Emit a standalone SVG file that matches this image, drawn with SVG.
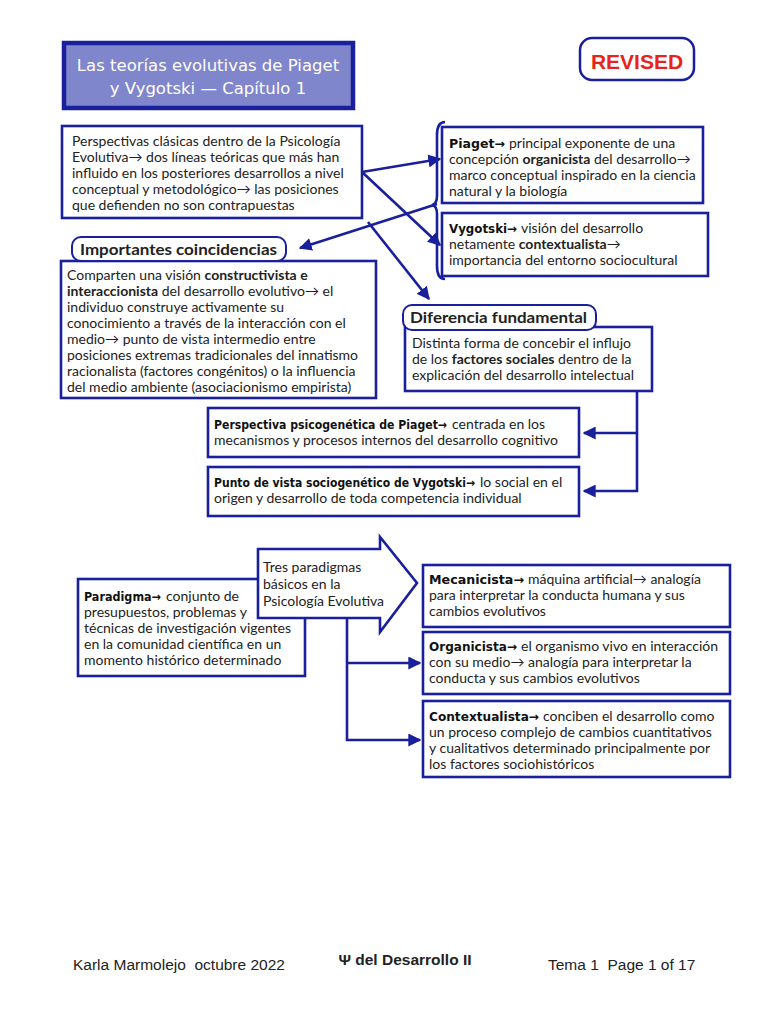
<svg xmlns="http://www.w3.org/2000/svg" width="768" height="1024" viewBox="0 0 768 1024">
<defs>
<style>
.box{fill:#fff;stroke:#1a1f9c;stroke-width:2.6}
.lbl{fill:#fff;stroke:#1a1f9c;stroke-width:2}
.t{font-family:Lato,"Open Sans","Liberation Sans",sans-serif;font-size:14px;fill:#222}
.b{font-weight:bold}
.k{font-family:"DejaVu Sans Condensed","Liberation Sans",sans-serif;font-size:12.5px;font-weight:bold;fill:#111}
.h{font-family:Lato,"Open Sans","Liberation Sans",sans-serif;font-size:16px;font-weight:bold;fill:#222}
.c{fill:none;stroke:#1a1f9c;stroke-width:2.6}
.f{font-family:"Liberation Sans",Arial,sans-serif;font-size:15.5px;fill:#222}
</style>
<marker id="ah" viewBox="0 0 10 10" refX="9" refY="5" markerWidth="5" markerHeight="5" orient="auto" markerUnits="strokeWidth">
<path d="M0,0 L10,5 L0,10 Z" fill="#1a1f9c"/>
</marker>
</defs>
<rect width="768" height="1024" fill="#fff"/>

<g id="title">
<rect x="64" y="43" width="289" height="65" fill="#7f86cc" stroke="#1a1f9c" stroke-width="4.5"/>
<text x="208" y="71" text-anchor="middle" font-family="'DejaVu Sans',sans-serif" font-size="16.5" fill="#fff">Las teorías evolutivas de Piaget</text>
<text x="208" y="94" text-anchor="middle" font-family="'DejaVu Sans',sans-serif" font-size="16.5" fill="#fff">y Vygotski — Capítulo 1</text>
</g>

<g id="revised">
<rect x="580" y="38" width="114" height="42" rx="12" fill="#fff" stroke="#1a1f9c" stroke-width="2.5"/>
<text x="637" y="69" text-anchor="middle" font-family="'Liberation Sans',Arial,sans-serif" font-weight="bold" font-size="21" fill="#e8231b">REVISED</text>
</g>

<g id="connectors">
<line class="c" x1="362" y1="172" x2="440" y2="159" marker-end="url(#ah)"/>
<line class="c" x1="362" y1="172" x2="440" y2="245" marker-end="url(#ah)"/>
<line class="c" x1="437" y1="204" x2="300" y2="248" marker-end="url(#ah)"/>
<line class="c" x1="368" y1="222" x2="429" y2="299" marker-end="url(#ah)"/>
<path class="c" d="M445,122 Q437,122 437,135 L437,196 Q437,204 432,205 Q437,206 437,214 L437,266 Q437,279 445,279" stroke-width="2.2"/>
<path class="c" d="M637,391 L637,491 L584,491" marker-end="url(#ah)"/>
<path class="c" d="M637,433 L584,433" marker-end="url(#ah)"/>
<path class="c" d="M347,618 L347,740 L420,740" marker-end="url(#ah)"/>
<path class="c" d="M347,663 L420,663" marker-end="url(#ah)"/>
</g>

<g id="n-perspectivas">
<rect class="box" x="62" y="126" width="300" height="92"/>
<text class="t" x="72" y="146">Perspectivas clásicas dentro de la Psicología</text>
<text class="t" x="72" y="162">Evolutiva→ dos líneas teóricas que más han</text>
<text class="t" x="72" y="178">influido en los posteriores desarrollos a nivel</text>
<text class="t" x="72" y="194">conceptual y metodológico→ las posiciones</text>
<text class="t" x="72" y="210">que defienden no son contrapuestas</text>
</g>

<g id="n-piaget">
<rect class="box" x="442" y="127" width="261" height="76"/>
<text class="k" x="449" y="148" textLength="56" lengthAdjust="spacingAndGlyphs">Piaget→</text>
<text class="t" x="509" y="148">principal exponente de una</text>
<text class="t" x="449" y="164">concepción <tspan class="b">organicista</tspan> del desarrollo→</text>
<text class="t" x="449" y="180">marco conceptual inspirado en la ciencia</text>
<text class="t" x="449" y="196">natural y la biología</text>
</g>

<g id="n-vygotski">
<rect class="box" x="442" y="213" width="266" height="63"/>
<text class="k" x="449" y="233" textLength="68" lengthAdjust="spacingAndGlyphs">Vygotski→</text>
<text class="t" x="521" y="233">visión del desarrollo</text>
<text class="t" x="449" y="249">netamente <tspan class="b">contextualista</tspan>→</text>
<text class="t" x="449" y="265">importancia del entorno sociocultural</text>
</g>

<g id="n-coincidencias">
<rect class="box" x="61" y="261" width="315" height="137"/>
<rect class="lbl" x="72" y="237" width="214" height="24" rx="9"/>
<text class="h" x="80" y="255" textLength="197" lengthAdjust="spacingAndGlyphs">Importantes coincidencias</text>
<text class="t" x="67" y="280">Comparten una visión <tspan class="b">constructivista e</tspan></text>
<text class="t" x="67" y="296"><tspan class="b">interaccionista</tspan> del desarrollo evolutivo→ el</text>
<text class="t" x="67" y="312">individuo construye activamente su</text>
<text class="t" x="67" y="328">conocimiento a través de la interacción con el</text>
<text class="t" x="67" y="344">medio→ punto de vista intermedio entre</text>
<text class="t" x="67" y="360">posiciones extremas tradicionales del innatismo</text>
<text class="t" x="67" y="376">racionalista (factores congénitos) o la influencia</text>
<text class="t" x="67" y="392">del medio ambiente (asociacionismo empirista)</text>
</g>

<g id="n-diferencia">
<rect class="box" x="405" y="327" width="247" height="64"/>
<rect class="lbl" x="403" y="305" width="193" height="25" rx="9"/>
<text class="h" x="410" y="323" textLength="177" lengthAdjust="spacingAndGlyphs">Diferencia fundamental</text>
<text class="t" x="412" y="348">Distinta forma de concebir el influjo</text>
<text class="t" x="412" y="364">de los <tspan class="b">factores sociales</tspan> dentro de la</text>
<text class="t" x="412" y="380">explicación del desarrollo intelectual</text>
</g>

<g id="n-psicogenetica">
<rect class="box" x="208" y="408" width="371" height="49"/>
<text class="k" x="214" y="429" textLength="233" lengthAdjust="spacingAndGlyphs">Perspectiva psicogenética de Piaget→</text>
<text class="t" x="452" y="429">centrada en los</text>
<text class="t" x="214" y="445">mecanismos y procesos internos del desarrollo cognitivo</text>
</g>

<g id="n-sociogenetico">
<rect class="box" x="208" y="467" width="371" height="49"/>
<text class="k" x="214" y="487" textLength="261" lengthAdjust="spacingAndGlyphs">Punto de vista sociogenético de Vygotski→</text>
<text class="t" x="480" y="487">lo social en el</text>
<text class="t" x="214" y="503">origen y desarrollo de toda competencia individual</text>
</g>

<g id="n-paradigma">
<rect class="box" x="78" y="579" width="227" height="97"/>
<text class="k" x="84" y="601" textLength="77" lengthAdjust="spacingAndGlyphs">Paradigma→</text>
<text class="t" x="166" y="601">conjunto de</text>
<text class="t" x="84" y="617">presupuestos, problemas y</text>
<text class="t" x="84" y="633">técnicas de investigación vigentes</text>
<text class="t" x="84" y="649">en la comunidad científica en un</text>
<text class="t" x="84" y="665">momento histórico determinado</text>
</g>

<g id="n-tres">
<polygon points="258,549 380,549 380,537 417,583 380,632 380,618 258,618" fill="#fff" stroke="#1a1f9c" stroke-width="2.6" stroke-linejoin="miter"/>
<text class="t" x="263" y="572">Tres paradigmas</text>
<text class="t" x="263" y="589">básicos en la</text>
<text class="t" x="263" y="606">Psicología Evolutiva</text>
</g>

<g id="n-mecanicista">
<rect class="box" x="423" y="565" width="307" height="62"/>
<text class="k" x="429" y="584" textLength="95" lengthAdjust="spacingAndGlyphs">Mecanicista→</text>
<text class="t" x="528" y="584">máquina artificial→ analogía</text>
<text class="t" x="429" y="600">para interpretar la conducta humana y sus</text>
<text class="t" x="429" y="616">cambios evolutivos</text>
</g>

<g id="n-organicista">
<rect class="box" x="423" y="632" width="307" height="62"/>
<text class="k" x="429" y="651" textLength="88" lengthAdjust="spacingAndGlyphs">Organicista→</text>
<text class="t" x="521" y="651">el organismo vivo en interacción</text>
<text class="t" x="429" y="667">con su medio→ analogía para interpretar la</text>
<text class="t" x="429" y="683">conducta y sus cambios evolutivos</text>
</g>

<g id="n-contextualista">
<rect class="box" x="423" y="701" width="307" height="76"/>
<text class="k" x="429" y="721" textLength="110" lengthAdjust="spacingAndGlyphs">Contextualista→</text>
<text class="t" x="543" y="721">conciben el desarrollo como</text>
<text class="t" x="429" y="737">un proceso complejo de cambios cuantitativos</text>
<text class="t" x="429" y="753">y cualitativos determinado principalmente por</text>
<text class="t" x="429" y="769">los factores sociohistóricos</text>
</g>

<g id="footer">
<text class="f" x="73" y="970" xml:space="preserve">Karla Marmolejo  octubre 2022</text>
<text class="f" x="405" y="965" text-anchor="middle" font-weight="bold">Ψ del Desarrollo II</text>
<text class="f" x="548" y="970" xml:space="preserve">Tema 1  Page 1 of 17</text>
</g>
</svg>
